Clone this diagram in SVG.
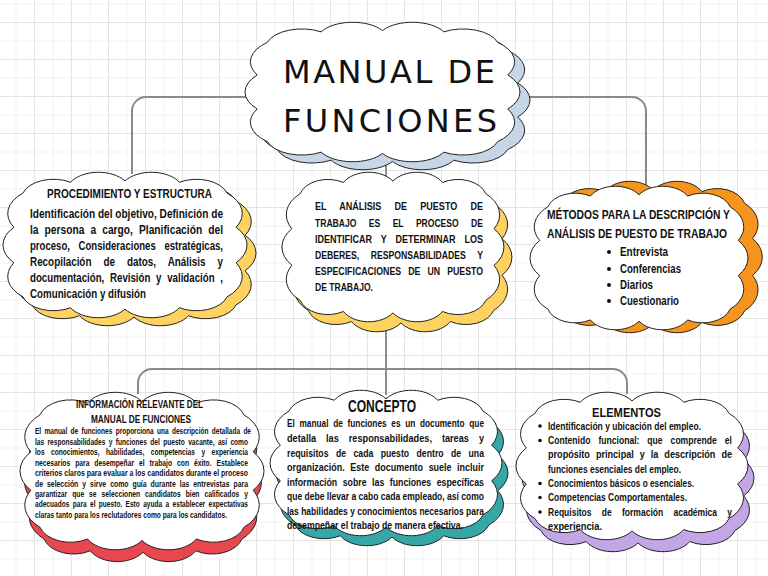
<svg xmlns="http://www.w3.org/2000/svg" xmlns:xlink="http://www.w3.org/1999/xlink" width="768" height="576" viewBox="0 0 768 576">
<style>
.cl{stroke:#222;stroke-width:1;vector-effect:non-scaling-stroke}
.t{font-family:"Liberation Sans",Arial,sans-serif;font-weight:bold;fill:#111}
.ti{font-family:"DejaVu Sans","Liberation Sans",sans-serif;font-size:32px;fill:#111}
.con{fill:none;stroke:#8a8a8a;stroke-width:2}
</style>
<defs>
<pattern id="grid" patternUnits="userSpaceOnUse" x="34" y="22" width="37" height="37">
<path d="M0.5 0V37M0 0.5H37" stroke="#e4e4e4" stroke-width="1" fill="none"/>
<path d="M19 0V37M0 19H37" stroke="#f1f1f1" stroke-width="1" fill="none"/>
</pattern>
<path id="cloud" class="cl" d="M5,12 A14,14 0 0 1 26,4 A14,14 0 0 1 50,3 A14,14 0 0 1 74,4 A14,14 0 0 1 95,12 A20,20 0 0 1 99,37 A20,20 0 0 1 99,63 A20,20 0 0 1 95,88 A14,14 0 0 1 74,96 A14,14 0 0 1 50,97 A14,14 0 0 1 26,96 A14,14 0 0 1 5,88 A20,20 0 0 1 1,63 A20,20 0 0 1 1,37 A20,20 0 0 1 5,12 Z"/>
</defs>
<rect width="768" height="576" fill="#fff"/>
<rect width="768" height="576" fill="url(#grid)"/>

<g id="connectors">
<path class="con" d="M132,174 V111 A14,14 0 0 1 146,97 H632 A14,14 0 0 1 646,111 V192"/>
<path d="M386,150 V395" fill="none" stroke="#555" stroke-width="1.3"/>
<path class="con" d="M138,394 V383 A14,14 0 0 1 152,369 H613 A14,14 0 0 1 627,383 V394"/>
</g>

<g id="title">
<use xlink:href="#cloud" fill="#c6d6e6" transform="translate(264.7,34.6) scale(2.556,1.308)"/>
<use xlink:href="#cloud" fill="#fff" transform="translate(254.7,26.6) scale(2.556,1.308)"/>
<text class="ti" x="283" y="83" textLength="212" lengthAdjust="spacing">MANUAL DE</text>
<text class="ti" x="283" y="132" textLength="214" lengthAdjust="spacing">FUNCIONES</text>
</g>

<g id="procedimiento">
<use xlink:href="#cloud" fill="#fdd25e" transform="translate(20.6,184.8) scale(2.268,1.364)"/>
<use xlink:href="#cloud" fill="#fff" transform="translate(11.6,176.8) scale(2.268,1.364)"/>
<text class="t" font-size="9.2" transform="translate(47,198) scale(1,1.41)" textLength="165" lengthAdjust="spacingAndGlyphs">PROCEDIMIENTO Y ESTRUCTURA</text>
<g font-size="9.6">
<text class="t" transform="translate(30,218) scale(1,1.25)" textLength="193" lengthAdjust="spacingAndGlyphs">Identificación del objetivo, Definición de</text>
<text class="t" transform="translate(30,234) scale(1,1.25)" textLength="193" lengthAdjust="spacingAndGlyphs" word-spacing="3">la persona a cargo, Planificación del</text>
<text class="t" transform="translate(30,250) scale(1,1.25)" textLength="193" lengthAdjust="spacingAndGlyphs" word-spacing="6">proceso, Consideraciones estratégicas,</text>
<text class="t" transform="translate(30,266) scale(1,1.25)" textLength="193" lengthAdjust="spacingAndGlyphs" word-spacing="9">Recopilación de datos, Análisis y</text>
<text class="t" transform="translate(30,282) scale(1,1.25)" textLength="193" lengthAdjust="spacingAndGlyphs" word-spacing="3">documentación, Revisión y validación ,</text>
<text class="t" transform="translate(30,298) scale(1,1.25)" textLength="116" lengthAdjust="spacingAndGlyphs">Comunicación y difusión</text>
</g>
</g>

<g id="analisis">
<use xlink:href="#cloud" fill="#fdd25e" transform="translate(297.8,186.9) scale(2.063,1.402)"/>
<use xlink:href="#cloud" fill="#fff" transform="translate(289.8,176.9) scale(2.063,1.402)"/>
<g font-size="8.5">
<text class="t" transform="translate(315,210) scale(1,1.35)" textLength="168" lengthAdjust="spacingAndGlyphs" word-spacing="10">EL ANÁLISIS DE PUESTO DE</text>
<text class="t" transform="translate(315,227) scale(1,1.35)" textLength="168" lengthAdjust="spacingAndGlyphs" word-spacing="10">TRABAJO ES EL PROCESO DE</text>
<text class="t" transform="translate(315,243) scale(1,1.35)" textLength="168" lengthAdjust="spacingAndGlyphs" word-spacing="6">IDENTIFICAR Y DETERMINAR LOS</text>
<text class="t" transform="translate(315,259) scale(1,1.35)" textLength="168" lengthAdjust="spacingAndGlyphs" word-spacing="9">DEBERES, RESPONSABILIDADES Y</text>
<text class="t" transform="translate(315,275) scale(1,1.35)" textLength="168" lengthAdjust="spacingAndGlyphs" word-spacing="4.5">ESPECIFICACIONES DE UN PUESTO</text>
<text class="t" transform="translate(315,291) scale(1,1.35)" textLength="58" lengthAdjust="spacingAndGlyphs">DE TRABAJO.</text>
</g>
</g>

<g id="metodos">
<use xlink:href="#cloud" fill="#f7941d" transform="translate(552,186) scale(2.026,1.42)"/>
<use xlink:href="#cloud" fill="#fff" transform="translate(537.7,190.7) scale(2.026,1.346)"/>
<g font-size="9.3">
<text class="t" transform="translate(547,219) scale(1,1.4)" textLength="183" lengthAdjust="spacingAndGlyphs">MÉTODOS PARA LA DESCRIPCIÓN Y</text>
<text class="t" transform="translate(547,238) scale(1,1.4)" textLength="180" lengthAdjust="spacingAndGlyphs">ANÁLISIS DE PUESTO DE TRABAJO</text>
</g>
<g fill="#111">
<circle cx="609" cy="252" r="2"/><circle cx="609" cy="269" r="2"/><circle cx="609" cy="285" r="2"/><circle cx="609" cy="301" r="2"/>
</g>
<g font-size="9.6">
<text class="t" transform="translate(620,256) scale(1,1.25)" textLength="48" lengthAdjust="spacingAndGlyphs">Entrevista</text>
<text class="t" transform="translate(620,273) scale(1,1.25)" textLength="61" lengthAdjust="spacingAndGlyphs">Conferencias</text>
<text class="t" transform="translate(620,289) scale(1,1.25)" textLength="33" lengthAdjust="spacingAndGlyphs">Diarios</text>
<text class="t" transform="translate(620,305) scale(1,1.25)" textLength="59" lengthAdjust="spacingAndGlyphs">Cuestionario</text>
</g>
</g>

<g id="informacion">
<use xlink:href="#cloud" fill="#e8474f" transform="translate(33,409) scale(2.2,1.477)"/>
<use xlink:href="#cloud" fill="#fff" transform="translate(28.6,397.2) scale(2.268,1.477)"/>
<g font-size="7.5">
<text class="t" transform="translate(76,408) scale(1,1.53)" textLength="127" lengthAdjust="spacingAndGlyphs">INFORMACIÓN RELEVANTE DEL</text>
<text class="t" transform="translate(91,423) scale(1,1.53)" textLength="100" lengthAdjust="spacingAndGlyphs">MANUAL DE FUNCIONES</text>
</g>
<g font-size="6.5">
<text class="t" transform="translate(35,434.3) scale(1,1.385)" textLength="216" lengthAdjust="spacingAndGlyphs" word-spacing="1.5">El manual de funciones proporciona una descripción detallada de</text>
<text class="t" transform="translate(35,444.8) scale(1,1.385)" textLength="213" lengthAdjust="spacingAndGlyphs" word-spacing="1.5">las responsabilidades y funciones del puesto vacante, así como</text>
<text class="t" transform="translate(35,455.2) scale(1,1.385)" textLength="213" lengthAdjust="spacingAndGlyphs" word-spacing="4.5">los conocimientos, habilidades, competencias y experiencia</text>
<text class="t" transform="translate(35,465.6) scale(1,1.385)" textLength="213" lengthAdjust="spacingAndGlyphs" word-spacing="3">necesarios para desempeñar el trabajo con éxito. Establece</text>
<text class="t" transform="translate(35,476) scale(1,1.385)" textLength="213" lengthAdjust="spacingAndGlyphs">criterios claros para evaluar a los candidatos durante el proceso</text>
<text class="t" transform="translate(35,486.5) scale(1,1.385)" textLength="213" lengthAdjust="spacingAndGlyphs" word-spacing="2">de selección y sirve como guía durante las entrevistas para</text>
<text class="t" transform="translate(35,497) scale(1,1.385)" textLength="213" lengthAdjust="spacingAndGlyphs" word-spacing="3">garantizar que se seleccionen candidatos bien calificados y</text>
<text class="t" transform="translate(35,507.3) scale(1,1.385)" textLength="213" lengthAdjust="spacingAndGlyphs" word-spacing="1.5">adecuados para el puesto. Esto ayuda a establecer expectativas</text>
<text class="t" transform="translate(35,518) scale(1,1.385)" textLength="192" lengthAdjust="spacingAndGlyphs">claras tanto para los reclutadores como para los candidatos.</text>
</g>
</g>

<g id="concepto">
<use xlink:href="#cloud" fill="#35a7a7" transform="translate(284.2,404.8) scale(2.156,1.364)"/>
<use xlink:href="#cloud" fill="#fff" transform="translate(278.2,394.8) scale(2.156,1.364)"/>
<text class="t" font-size="12" transform="translate(348,412) scale(1,1.375)" textLength="68" lengthAdjust="spacingAndGlyphs">CONCEPTO</text>
<g font-size="8.7">
<text class="t" transform="translate(287,427) scale(1,1.265)" textLength="197" lengthAdjust="spacingAndGlyphs" word-spacing="2.5">El manual de funciones es un documento que</text>
<text class="t" transform="translate(287,442) scale(1,1.265)" textLength="197" lengthAdjust="spacingAndGlyphs" word-spacing="7">detalla las responsabilidades, tareas y</text>
<text class="t" transform="translate(287,456.5) scale(1,1.265)" textLength="197" lengthAdjust="spacingAndGlyphs" word-spacing="5">requisitos de cada puesto dentro de una</text>
<text class="t" transform="translate(287,471) scale(1,1.265)" textLength="197" lengthAdjust="spacingAndGlyphs" word-spacing="3">organización. Este documento suele incluir</text>
<text class="t" transform="translate(287,485.5) scale(1,1.265)" textLength="197" lengthAdjust="spacingAndGlyphs" word-spacing="3">información sobre las funciones específicas</text>
<text class="t" transform="translate(287,500) scale(1,1.265)" textLength="197" lengthAdjust="spacingAndGlyphs">que debe llevar a cabo cada empleado, así como</text>
<text class="t" transform="translate(287,514.5) scale(1,1.265)" textLength="197" lengthAdjust="spacingAndGlyphs">las habilidades y conocimientos necesarios para</text>
<text class="t" transform="translate(287,529) scale(1,1.265)" textLength="176" lengthAdjust="spacingAndGlyphs">desempeñar el trabajo de manera efectiva.</text>
</g>
</g>

<g id="elementos">
<use xlink:href="#cloud" fill="#c3a6e6" transform="translate(530.2,408.8) scale(2.156,1.383)"/>
<use xlink:href="#cloud" fill="#fff" transform="translate(524.2,396.8) scale(2.156,1.383)"/>
<text class="t" font-size="10.5" transform="translate(592,416.5) scale(1,1.27)" textLength="69" lengthAdjust="spacingAndGlyphs">ELEMENTOS</text>
<g fill="#111">
<circle cx="540" cy="426" r="1.8"/><circle cx="540" cy="440.5" r="1.8"/><circle cx="540" cy="483.5" r="1.8"/><circle cx="540" cy="497.5" r="1.8"/><circle cx="540" cy="512" r="1.8"/>
</g>
<g font-size="9.2">
<text class="t" transform="translate(548,429.5) scale(1,1.2)" textLength="153" lengthAdjust="spacingAndGlyphs">Identificación y ubicación del empleo.</text>
<text class="t" transform="translate(548,444) scale(1,1.2)" textLength="184" lengthAdjust="spacingAndGlyphs" word-spacing="6">Contenido funcional: que comprende el</text>
<text class="t" transform="translate(548,458) scale(1,1.2)" textLength="184" lengthAdjust="spacingAndGlyphs" word-spacing="3.5">propósito principal y la descripción de</text>
<text class="t" transform="translate(548,472.5) scale(1,1.2)" textLength="133" lengthAdjust="spacingAndGlyphs">funciones esenciales del empleo.</text>
<text class="t" transform="translate(548,487) scale(1,1.2)" textLength="146" lengthAdjust="spacingAndGlyphs">Conocimientos básicos o esenciales.</text>
<text class="t" transform="translate(548,501) scale(1,1.2)" textLength="139" lengthAdjust="spacingAndGlyphs">Competencias Comportamentales.</text>
<text class="t" transform="translate(548,515.5) scale(1,1.2)" textLength="184" lengthAdjust="spacingAndGlyphs" word-spacing="8.5">Requisitos de formación académica y</text>
<text class="t" transform="translate(548,529.5) scale(1,1.2)" textLength="54" lengthAdjust="spacingAndGlyphs">experiencia.</text>
</g>
</g>
</svg>
